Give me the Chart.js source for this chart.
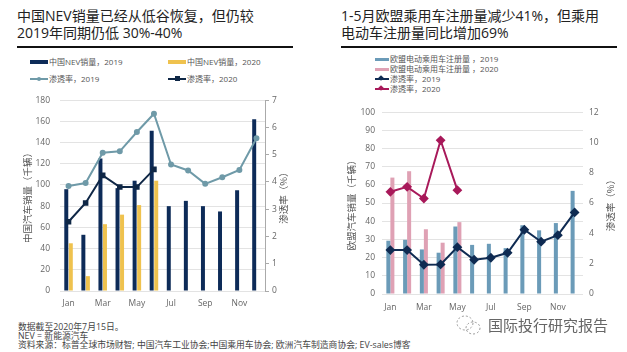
<!DOCTYPE html>
<html>
<head>
<meta charset="utf-8">
<script src="https://cdn.jsdelivr.net/npm/chart.js@4"></script>
<style>
  body { margin: 0; background: #fff; width: 627px; height: 352px; overflow: hidden; position: relative;
         font-family: "Open Sans", "Noto Sans CJK SC", sans-serif; color: #333; }
  .abs { position: absolute; white-space: nowrap; }
  .title { font-size: 14px; line-height: 17px; color: #222; }
  .rule { position: absolute; height: 2px; background: #111; }
  .lg { font-size: 8px; color: #555; line-height: 10px; }
  .sw { position: absolute; }
  .note { font-size: 8.8px; line-height: 9px; color: #444; }
  canvas { position: absolute; }
</style>
</head>
<body>

<div class="abs title" style="left:17px; top:7px;">中国NEV销量已经从低谷恢复，但仍较<br>2019年同期仍低 30%-40%</div>
<div class="rule" style="left:17px; top:46px; width:276px;"></div>

<div class="abs title" style="left:341px; top:7px;">1-5月欧盟乘用车注册量减少41%，但乘用<br>电动车注册量同比增加69%</div>
<div class="rule" style="left:341px; top:46px; width:276px;"></div>

<!-- left legend -->
<div class="sw" style="left:30px; top:60px; width:18px; height:4px; background:#0d2b58;"></div>
<div class="abs lg" style="left:49px; top:57px;">中国NEV销量，2019</div>
<div class="sw" style="left:168px; top:60px; width:18px; height:4px; background:#efc24e;"></div>
<div class="abs lg" style="left:187px; top:57px;">中国NEV销量，2020</div>
<div class="sw" style="left:30px; top:78px; width:18px; height:2px; background:#6f9aa8;"></div>
<div class="sw" style="left:37px; top:77px; width:4px; height:4px; border-radius:2px; background:#6f9aa8;"></div>
<div class="abs lg" style="left:49px; top:74px;">渗透率，2019</div>
<div class="sw" style="left:168px; top:78px; width:18px; height:2px; background:#0f2746;"></div>
<div class="sw" style="left:175px; top:76px; width:5px; height:5px; background:#0f2746;"></div>
<div class="abs lg" style="left:187px; top:74px;">渗透率，2020</div>

<!-- right legend -->
<div class="sw" style="left:375px; top:58px; width:14px; height:3px; background:#6b9bb8;"></div>
<div class="abs lg" style="left:390px; top:54px;">欧盟电动乘用车注册量 ，2019</div>
<div class="sw" style="left:375px; top:68px; width:14px; height:3px; background:#dfa1b4;"></div>
<div class="abs lg" style="left:390px; top:64px;">欧盟电动乘用车注册量 ，2020</div>
<div class="sw" style="left:375px; top:78px; width:14px; height:2px; background:#0f2b52;"></div>
<div class="sw" style="left:379px; top:76px; width:4px; height:4px; transform:rotate(45deg); background:#0f2b52;"></div>
<div class="abs lg" style="left:390px; top:74px;">渗透率，2019</div>
<div class="sw" style="left:375px; top:88px; width:14px; height:2px; background:#a8195a;"></div>
<div class="sw" style="left:379px; top:86px; width:4px; height:4px; transform:rotate(45deg); background:#a8195a;"></div>
<div class="abs lg" style="left:390px; top:84px;">渗透率，2020</div>

<canvas id="cnChart" width="310" height="230" style="left:0; top:85px;"></canvas>
<canvas id="euChart" width="307" height="215" style="left:320px; top:100px;"></canvas>

<div class="abs note" style="left:18px; top:323px;">数据截至2020年7月15日。<br>NEV = 新能源汽车<br>资料来源：标普全球市场财智; 中国汽车工业协会;中国乘用车协会; 欧洲汽车制造商协会; EV-sales博客</div>

<svg class="abs" style="left:455px; top:313px;" width="28" height="24" viewBox="0 0 28 24">
  <ellipse cx="10" cy="10" rx="8" ry="7" fill="none" stroke="#999" stroke-width="1" stroke-dasharray="2 2"/>
  <ellipse cx="18" cy="15" rx="7" ry="6" fill="none" stroke="#999" stroke-width="1" stroke-dasharray="2 2"/>
</svg>
<div class="abs" style="left:488px; top:314px; font-size:15px; color:#666; font-family:'Noto Sans CJK SC';">国际投行研究报告</div>

<script>
const months = ["Jan", "Feb", "Mar", "Apr", "May", "Jun", "Jul", "Aug", "Sep", "Oct", "Nov", "Dec"];

// China NEV sales (thousand units) and penetration (%)
const cnSales2019 = [96, 53, 125, 97, 104, 151, 80, 85, 80, 75, 95, 162];
const cnSales2020 = [45, 14, 63, 72, 81, 104, null, null, null, null, null, null];
const cnPen2019 = [3.85, 3.96, 5.07, 5.12, 5.83, 6.5, 4.64, 4.42, 3.93, 4.17, 4.44, 5.6];
const cnPen2020 = [2.54, 3.23, 4.24, 3.81, 3.81, 4.46, null, null, null, null, null, null];

// EU EV registrations (thousand units) and penetration (%)
const euReg2019 = [29.3, 29.8, 24.5, 22.7, 37.1, 27, 27.6, 25.2, 37.8, 35, 39, 56.7];
const euReg2020 = [64, 67.5, 35.6, 28.2, 39.5, null, null, null, null, null, null, null];
const euPen2019 = [2.9, 2.9, 1.93, 1.95, 3.09, 2.26, 2.39, 2.72, 4.24, 3.45, 3.88, 5.38];
const euPen2020 = [6.74, 7.07, 6.3, 10.14, 6.85, null, null, null, null, null, null, null];

Chart.defaults.font.family = '"Open Sans", "Noto Sans CJK SC", sans-serif';
Chart.defaults.font.size = 8.5;
Chart.defaults.color = "#666";

// draws rotated axis titles (bottom-to-top) beside the chart area
const sideTitles = {
    id: "sideTitles",
    afterDraw(chart, args, opts) {
        const { ctx, chartArea } = chart;
        const midY = (chartArea.top + chartArea.bottom) / 2;
        ctx.save();
        ctx.font = '9.5px "Noto Sans CJK SC"';
        ctx.fillStyle = "#555";
        ctx.textAlign = "center";
        ctx.textBaseline = "middle";
        [[opts.left, chartArea.left - opts.leftGap], [opts.right, chartArea.right + opts.rightGap]].forEach(([text, x]) => {
            ctx.save();
            ctx.translate(x, midY);
            ctx.rotate(-Math.PI / 2);
            ctx.fillText(text, 0, 0);
            ctx.restore();
        });
        ctx.restore();
    }
};

const oddMonthLabel = (v, i) => (i % 2 === 0 ? months[i] : "");

new Chart(document.getElementById("cnChart"), {
    data: {
        labels: months,
        datasets: [
            { type: "line", data: cnPen2019, yAxisID: "y1", borderColor: "#6f9aa8", backgroundColor: "#6f9aa8",
              borderWidth: 2, pointRadius: 2, pointStyle: "circle", order: 1 },
            { type: "line", data: cnPen2020, yAxisID: "y1", borderColor: "#0f2746", backgroundColor: "#0f2746",
              borderWidth: 2, pointRadius: 2.5, pointStyle: "rect", order: 1 },
            { type: "bar", data: cnSales2019, yAxisID: "y", backgroundColor: "#0d2b58",
              barPercentage: 0.88, categoryPercentage: 0.53, order: 2 },
            { type: "bar", data: cnSales2020, yAxisID: "y", backgroundColor: "#efc24e",
              barPercentage: 0.88, categoryPercentage: 0.53, order: 2 },
        ],
    },
    options: {
        responsive: false,
        animation: false,
        devicePixelRatio: 1,
        layout: { padding: { top: 10, left: 0, right: 0, bottom: 0 } },
        plugins: {
            legend: { display: false },
            tooltip: { enabled: false },
            sideTitles: { left: "中国汽车销量（千辆）", leftGap: 33, right: "渗透率（%）", rightGap: 18 },
        },
        scales: {
            x: {
                grid: { display: false, drawTicks: false },
                border: { display: false },
                ticks: { autoSkip: false, maxRotation: 0, padding: 7, callback: oddMonthLabel },
                afterFit: (s) => { s.height = 24; },
            },
            y: {
                position: "left", min: 0, max: 180,
                ticks: { stepSize: 20, padding: 10 },
                grid: { color: "#e3e3e3", drawTicks: false },
                border: { display: false },
                afterFit: (s) => { s.width = 60; },
            },
            y1: {
                position: "right", min: 0, max: 7,
                ticks: { stepSize: 1, padding: 3 },
                grid: { drawOnChartArea: false, drawTicks: true, tickLength: 4, color: "#aaa" },
                border: { display: true, color: "#aaa" },
                afterFit: (s) => { s.width = 45; },
            },
        },
    },
    plugins: [sideTitles],
});

new Chart(document.getElementById("euChart"), {
    data: {
        labels: months,
        datasets: [
            { type: "line", data: euPen2019, yAxisID: "y1", borderColor: "#0f2b52", backgroundColor: "#0f2b52",
              borderWidth: 2, pointRadius: 3.5, pointStyle: "rectRot", order: 1 },
            { type: "line", data: euPen2020, yAxisID: "y1", borderColor: "#a8195a", backgroundColor: "#a8195a",
              borderWidth: 2, pointRadius: 3.5, pointStyle: "rectRot", order: 1 },
            { type: "bar", data: euReg2019, yAxisID: "y", backgroundColor: "#6b9bb8",
              barPercentage: 1, categoryPercentage: 0.48, order: 2 },
            { type: "bar", data: euReg2020, yAxisID: "y", backgroundColor: "#dfa1b4",
              barPercentage: 1, categoryPercentage: 0.48, order: 2 },
        ],
    },
    options: {
        responsive: false,
        animation: false,
        devicePixelRatio: 1,
        layout: { padding: { top: 12, left: 0, right: 0, bottom: 0 } },
        plugins: {
            legend: { display: false },
            tooltip: { enabled: false },
            sideTitles: { left: "欧盟汽车销量（千辆）", leftGap: 31, right: "渗透率（%）", rightGap: 27 },
        },
        scales: {
            x: {
                grid: { display: false, drawTicks: false },
                border: { display: false },
                ticks: { autoSkip: false, maxRotation: 0, padding: 8, callback: oddMonthLabel },
                afterFit: (s) => { s.height = 21; },
            },
            y: {
                position: "left", min: 0, max: 100,
                ticks: { stepSize: 10, padding: 7 },
                grid: { color: "#e3e3e3", drawTicks: false },
                border: { display: false },
                afterFit: (s) => { s.width = 62; },
            },
            y1: {
                position: "right", min: 0, max: 12,
                ticks: { stepSize: 2, padding: 6 },
                grid: { drawOnChartArea: false, drawTicks: false },
                border: { display: false },
                afterFit: (s) => { s.width = 44; },
            },
        },
    },
    plugins: [sideTitles],
});
</script>
</body>
</html>
